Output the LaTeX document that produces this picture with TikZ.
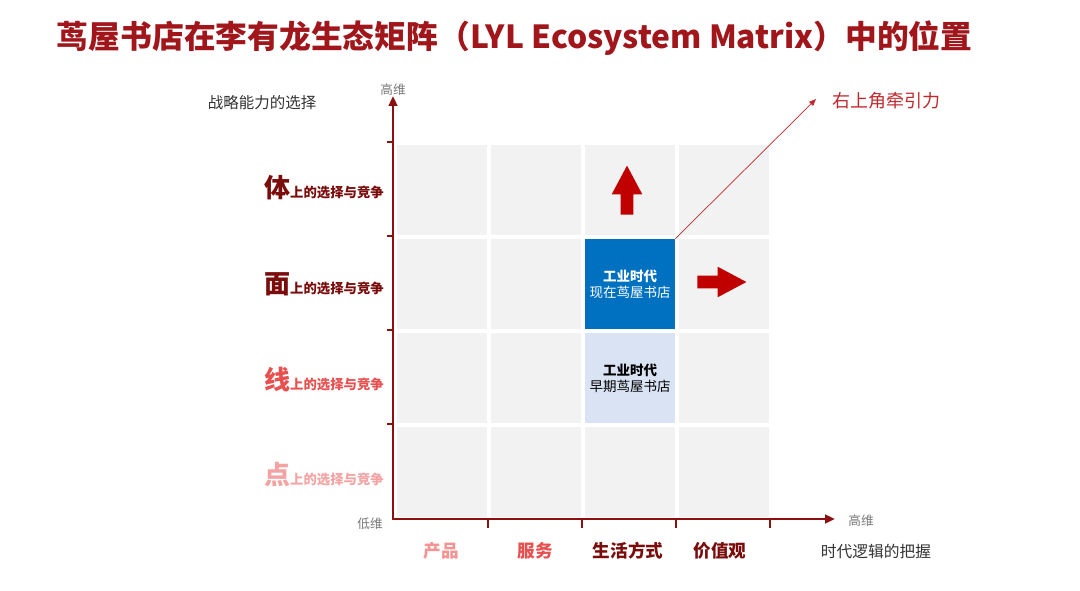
\documentclass[tikz,border=0pt]{standalone}
\usepackage{fontspec}
\setmainfont{Noto Sans CJK SC}
\usetikzlibrary{positioning,arrows.meta,shapes.arrows}

\definecolor{titlered}{HTML}{A0161B}
\definecolor{axisred}{HTML}{8C1010}
\definecolor{arrowred}{HTML}{C00000}
\definecolor{pullred}{HTML}{C0282D}
\definecolor{cellgray}{HTML}{F2F2F2}
\definecolor{nowblue}{HTML}{0070C0}
\definecolor{earlyblue}{HTML}{DAE3F3}
\definecolor{deepred}{HTML}{7A0C0C}
\definecolor{midred}{HTML}{E8504F}
\definecolor{softred}{HTML}{F4A3A3}
\definecolor{textgray}{HTML}{333333}
\definecolor{dimgray}{HTML}{777777}

\begin{document}
\begin{tikzpicture}[
  x=0.025cm, y=-0.025cm,
  cell/.style={fill=cellgray, minimum size=2.25cm, inner sep=0},
  celltext/.style={align=center, font=\fontsize{9.6}{11.6}\selectfont},
  axis/.style={{Triangle[length=7pt,width=6pt]}-{Triangle[length=7pt,width=6pt]}, line width=1.8pt, draw=axisred, line join=miter},
  axtick/.style={line width=1.5pt, draw=axisred},
  rowlbl/.style={anchor=east, inner sep=0, font=\bfseries},
  collbl/.style={font=\fontsize{12.5}{14}\selectfont\bfseries},
  dimlbl/.style={text=dimgray, font=\fontsize{9}{10}\selectfont},
  blockarrow/.style={single arrow, fill=arrowred, inner xsep=0, inner ysep=0.15cm,
    minimum height=1.225cm, single arrow head extend=0.225cm, single arrow tip angle=56},
  pullline/.style={-{Triangle[length=5pt,width=4pt]}, line width=0.5pt, draw=pullred}
]
\useasboundingbox (0,0) rectangle (1080,591);

% title
\node[anchor=west, text=titlered, font=\fontsize{22.6}{26}\selectfont\bfseries] (title) at (52,38)
  {茑屋书店在李有龙生态矩阵（LYL Ecosystem Matrix）中的位置};

% matrix cells
\foreach \i in {0,...,3}
  \foreach \j in {0,...,3}
    \node[cell] (c-\i-\j) at (442+94*\i,190+94*\j) {};
\node[cell, fill=nowblue, text=white, celltext] (now) at (630,284) {{\bfseries 工业时代}\\现在茑屋书店};
\node[cell, fill=earlyblue, text=black, celltext] (early) at (630,378) {{\bfseries 工业时代}\\早期茑屋书店};

% axes
\coordinate (orig) at (393,519);
\coordinate (ytip) at (393,96);
\coordinate (xtip) at (835,519);
\draw[axis] (ytip) -- (orig) -- (xtip);
\foreach \y in {142,236,330,424}
  \draw[axtick] (387,\y) -- (393,\y);
\foreach \x in {488,582,676,770}
  \draw[axtick] (\x,519) -- (\x,528);

\node[dimlbl] (yhigh) at (393,90) {高维};
\node[dimlbl] (low) at (370,524) {低维};
\node[dimlbl] (xhigh) at (861,521) {高维};
\node[anchor=west, text=textgray, font=\fontsize{11}{13}\selectfont] (ycap) at (203,103) {战略能力的选择};
\node[anchor=west, text=textgray, font=\fontsize{11.2}{13}\selectfont] (xcap) at (816,551) {时代逻辑的把握};

% row labels
\node[rowlbl, text=deepred] (ti) at (384,188) {{\fontsize{18.5}{20}\selectfont 体}{\fontsize{9.5}{11}\selectfont 上的选择与竞争}};
\node[rowlbl, text=deepred] (mian) at (384,284) {{\fontsize{18.5}{20}\selectfont 面}{\fontsize{9.5}{11}\selectfont 上的选择与竞争}};
\node[rowlbl, text=midred] (xian) at (384,380) {{\fontsize{18.5}{20}\selectfont 线}{\fontsize{9.5}{11}\selectfont 上的选择与竞争}};
\node[rowlbl, text=softred] (dian) at (384,475) {{\fontsize{18.5}{20}\selectfont 点}{\fontsize{9.5}{11}\selectfont 上的选择与竞争}};

% column labels
\node[collbl, text=softred!90!red] (prod) at (441,551) {产品};
\node[collbl, text=midred] (serv) at (535,551) {服务};
\node[collbl, text=deepred] (life) at (628,551) {生活方式};
\node[collbl, text=deepred] (value) at (720,551) {价值观};

% block arrows
\node[blockarrow, rotate=90] (uparr) at (627,196) {};
\node[blockarrow] (rightarr) at (716,282) {};

% pull to the upper right
\coordinate (pulltip) at (816,99);
\node[anchor=west, text=pullred, font=\fontsize{12.8}{15}\selectfont] (pull) at (828,101) {右上角牵引力};
\draw[pullline] (now.north east) -- (pulltip);
\end{tikzpicture}
\end{document}
